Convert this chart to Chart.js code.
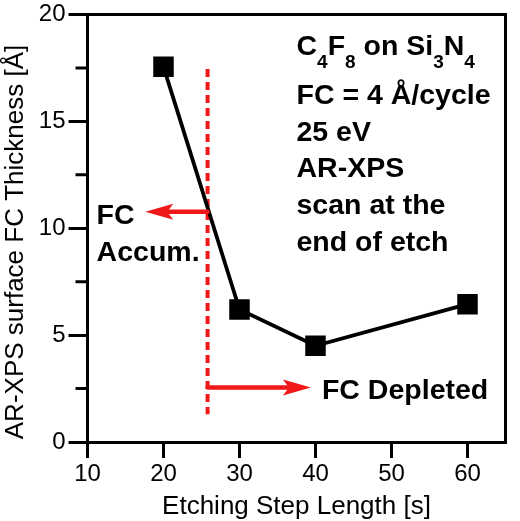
<!DOCTYPE html>
<html><head><meta charset="utf-8">
<script src="https://cdn.jsdelivr.net/npm/chart.js@4.4.0/dist/chart.umd.min.js"></script>
<style>html,body{margin:0;padding:0;background:#fff}</style>
</head><body>
<canvas id="c" width="520" height="521" style="width:520px;height:521px;display:block"></canvas>
<script>
// ---- data ----
const stepLength = [20, 30, 40, 60];
const fcThickness = [17.55, 6.2, 4.5, 6.45];
const xTicks = [10, 20, 30, 40, 50, 60];
const yTicks = [0, 5, 10, 15, 20];
const yMinorTicks = [2.5, 7.5, 12.5, 17.5];
const boundaryX = [25.8, 25.8];
const boundaryY = [17.45, 1.3];
const accumArrowX = [25.8, 17.6];
const accumArrowY = [10.77, 10.77];
const depletedArrowX = [25.8, 39.4];
const depletedArrowY = [2.55, 2.55];
const xTitle = 'Etching Step Length [s]';
const yTitle = 'AR-XPS surface FC Thickness [Å]';
// info text lines: segments [text, isSubscript]
const infoLines = [
  [['C',0],['4',1],['F',0],['8',1],[' on Si',0],['3',1],['N',0],['4',1]],
  [['FC = 4 Å/cycle',0]],
  [['25 eV',0]],
  [['AR-XPS',0]],
  [['scan at the',0]],
  [['end of etch',0]]
];
const infoX = 37.5;
const infoY = [18.1, 15.82, 14.1, 12.38, 10.67, 8.95];
const accumText = ['FC', 'Accum.'];
const accumTextX = 11.2;
const accumTextY = [10.2, 8.45];
const depletedText = 'FC Depleted';
const depletedTextX = 40.85;
const depletedTextY = 2.0;

const FONT = '"Liberation Sans", Arial, Helvetica, sans-serif';
const RED = '#f01818';

const pts = (xs, ys) => xs.map((x, i) => ({x, y: ys[i]}));

const decor = {
  id: 'decor',
  afterDraw(chart) {
    const ctx = chart.ctx, xs = chart.scales.x, ys = chart.scales.y, ca = chart.chartArea;
    ctx.save();
    // top & right frame
    ctx.strokeStyle = '#000'; ctx.lineWidth = 3;
    ctx.beginPath();
    ctx.moveTo(ca.left, ca.top); ctx.lineTo(ca.right, ca.top); ctx.lineTo(ca.right, ca.bottom);
    ctx.stroke();
    // minor y ticks
    ctx.beginPath();
    yMinorTicks.forEach(v => {
      const py = ys.getPixelForValue(v);
      ctx.moveTo(ca.left - 12, py); ctx.lineTo(ca.left, py);
    });
    ctx.stroke();
    // arrows
    const arrow = (axs, ays) => {
      const x0 = xs.getPixelForValue(axs[0]), y0 = ys.getPixelForValue(ays[0]);
      const x1 = xs.getPixelForValue(axs[1]), y1 = ys.getPixelForValue(ays[1]);
      const ang = Math.atan2(y1 - y0, x1 - x0);
      const L = 28, W = 8, back = 22;
      ctx.save();
      ctx.translate(x1, y1); ctx.rotate(ang);
      const len = Math.hypot(x1 - x0, y1 - y0);
      ctx.strokeStyle = RED; ctx.fillStyle = RED; ctx.lineWidth = 4.5; ctx.lineCap = 'round';
      ctx.beginPath(); ctx.moveTo(-len, 0); ctx.lineTo(-back, 0); ctx.stroke();
      ctx.beginPath();
      ctx.moveTo(0, 0); ctx.lineTo(-L, -W); ctx.lineTo(-back, 0); ctx.lineTo(-L, W); ctx.closePath();
      ctx.fill();
      ctx.restore();
    };
    arrow(accumArrowX, accumArrowY);
    arrow(depletedArrowX, depletedArrowY);
    // texts
    ctx.fillStyle = '#000';
    ctx.textBaseline = 'alphabetic'; ctx.textAlign = 'left';
    const big = 'bold 28.5px ' + FONT, small = 'bold 19px ' + FONT;
    const px = xs.getPixelForValue(infoX);
    infoLines.forEach((segs, i) => {
      let cx = px; const by = ys.getPixelForValue(infoY[i]);
      segs.forEach(([t, sub]) => {
        ctx.font = sub ? small : big;
        ctx.fillText(t, cx, sub ? by + 13 : by);
        cx += ctx.measureText(t).width;
      });
    });
    ctx.font = big;
    accumText.forEach((t, i) => ctx.fillText(t, xs.getPixelForValue(accumTextX), ys.getPixelForValue(accumTextY[i])));
    ctx.fillText(depletedText, xs.getPixelForValue(depletedTextX), ys.getPixelForValue(depletedTextY));
    // axis titles
    ctx.font = '26px ' + FONT;
    ctx.textAlign = 'center';
    ctx.fillText(xTitle, (ca.left + ca.right) / 2, 514);
    ctx.save();
    ctx.translate(23, 242); ctx.rotate(-Math.PI / 2);
    ctx.fillText(yTitle, 0, 0);
    ctx.restore();
    ctx.restore();
  }
};

new Chart(document.getElementById('c'), {
  type: 'scatter',
  data: {
    datasets: [
      {
        data: pts(stepLength, fcThickness), showLine: true,
        borderColor: '#000', borderWidth: 3.8, backgroundColor: '#000',
        pointStyle: 'rect', pointRadius: 14.5, pointBorderWidth: 0, pointHoverRadius: 14.5
      },
      {
        data: pts(boundaryX, boundaryY), showLine: true,
        borderColor: RED, borderWidth: 4, borderDash: [8, 5], pointRadius: 0
      }
    ]
  },
  options: {
    responsive: false, animation: false, devicePixelRatio: 1,
    layout: { padding: { top: 11, right: 5, left: 0, bottom: 0 } },
    plugins: { legend: { display: false }, tooltip: { enabled: false } },
    scales: {
      x: {
        type: 'linear', min: 10, max: 65,
        afterBuildTicks: s => { s.ticks = xTicks.map(v => ({value: v})); },
        afterFit: s => { s.height = 79; s.paddingLeft = 0; s.paddingRight = 0; },
        grid: { display: true, drawOnChartArea: false, drawTicks: true, tickLength: 16, lineWidth: 3, color: '#000' },
        border: { display: true, color: '#000', width: 3 },
        ticks: { color: '#000', font: { family: FONT, size: 24 }, padding: 2, maxRotation: 0 }
      },
      y: {
        type: 'linear', min: 0, max: 20,
        afterBuildTicks: s => { s.ticks = yTicks.map(v => ({value: v})); },
        afterFit: s => { s.width = 87.5; s.paddingTop = 0; s.paddingBottom = 0; },
        grid: { display: true, drawOnChartArea: false, drawTicks: true, tickLength: 19, lineWidth: 3, color: '#000' },
        border: { display: true, color: '#000', width: 3 },
        ticks: { color: '#000', font: { family: FONT, size: 24 }, padding: 3 }
      }
    }
  },
  plugins: [decor]
});
</script>
</body></html>
